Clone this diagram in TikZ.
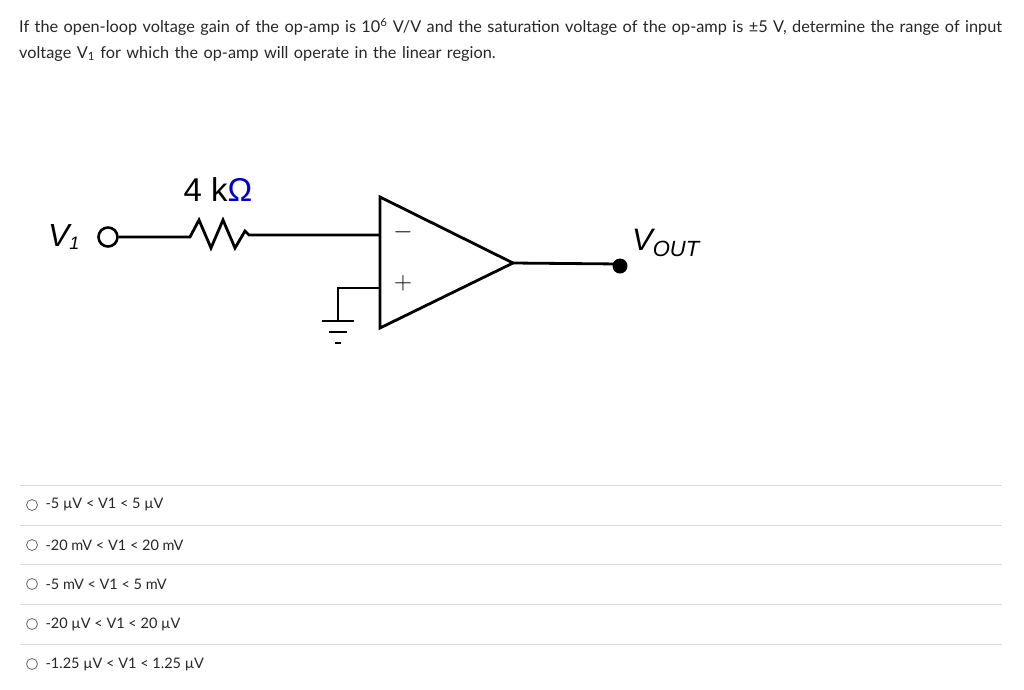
\documentclass[tikz,border=0pt]{standalone}
\usepackage{fontspec}
\setmainfont{Lato}
\newfontfamily\arialf{Liberation Sans}
\begin{document}
\begin{tikzpicture}[x=1pt,y=-1pt,
  wire/.style={line width=2.8pt},
  opt/.style={anchor=west,font=\fontsize{14.5}{16}\selectfont,text=black!85},
  sep/.style={draw=black!15,line width=0.8pt},
  radio/.style={circle,draw=black!60,line width=0.8pt,minimum size=11pt,inner sep=0pt}]
\useasboundingbox (0,0) rectangle (1024,689);
\node[anchor=north west,text width=1000pt,align=left,font=\fontsize{16.3}{25.5}\selectfont,text=black!85,inner sep=0pt] (q) at (19,18)
 {If the open-loop voltage gain of the op-amp is 10\textsuperscript{6} V/V and the saturation voltage of the op-amp is ±5 V, determine the range of input voltage V\textsubscript{1} for which the op-amp will operate in the linear region.};
% circuit
\node[circle,draw,line width=2.6pt,minimum size=19pt,inner sep=0pt] (in) at (108,237) {};
\node[font=\arialf\itshape\fontsize{32}{34}\selectfont] (v1) at (64,237) {V\textsubscript{\fontsize{18}{18}\selectfont 1}};
\coordinate (r1) at (180,237);
\coordinate (r2) at (262,235);
\coordinate (nm) at (380,235);
\coordinate (np) at (380,288);
\coordinate (g1) at (338,288);
\coordinate (g2) at (338,321);
\draw[wire,line join=miter] (in.east) -- (r1) -- (190,237) -- (199,220) -- (211,248) -- (223,220) -- (235,248) -- (245,231) -- (249,235) -- (r2) -- (nm);
\node[font=\arialf\fontsize{33}{35}\selectfont] (rl) at (218,190) {4 k\textcolor{blue!80!black}{Ω}};
\draw[wire,line join=miter] (380,197) -- (513,263) -- (380,328) -- cycle;
\coordinate (out) at (513,263);
\node (minus) at (403,232) {\fontsize{24}{24}\selectfont$-$};
\node (plus) at (403,283) {\fontsize{26}{26}\selectfont$+$};
\draw[wire] (np) -- (g1) -- (g2);
\draw[wire] (322,321) -- (354,321);
\draw[wire] (329,332) -- (347,332);
\draw[wire] (335,343) -- (341,343);
\node[circle,fill,minimum size=15pt,inner sep=0pt] (dot) at (620,266) {};
\draw[wire] (out) -- (620,264);
\node[font=\arialf\itshape\fontsize{31}{33}\selectfont] (vout) at (666,243) {V\textsubscript{\fontsize{22}{22}\selectfont OUT}};
% options
\foreach \y/\t [count=\i] in {505/{-5 µV < V1 < 5 µV},545/{-20 mV < V1 < 20 mV},584/{-5 mV < V1 < 5 mV},624/{-20 µV < V1 < 20 µV},664/{-1.25 µV < V1 < 1.25 µV}}{
  \draw[sep] (20,\y-20) -- (1002,\y-20);
  \node[radio] (r\i) at (32,\y) {};
  \node[opt] (o\i) at (42,\y) {\t};
}
\end{tikzpicture}
\end{document}
